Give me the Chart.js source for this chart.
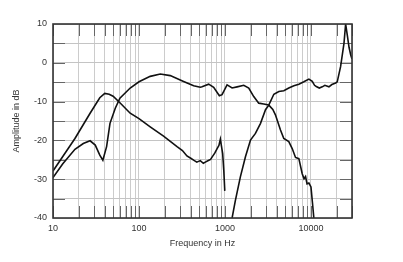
<!DOCTYPE html>
<html>
<head>
<meta charset="utf-8">
<script src="https://cdn.jsdelivr.net/npm/chart.js@4"></script>
<style>
  html, body { margin: 0; padding: 0; background: #fff; }
  #wrap { width: 403px; height: 262px; }
</style>
</head>
<body>
<div id="wrap"><canvas id="responseChart" width="403" height="262"></canvas></div>
<script>
// Woofer response (peaks near 40 Hz, cut off at 1 kHz)
const wooferHz = [10, 18, 27, 35, 40, 45, 50, 60, 79, 100, 135, 193, 277, 320, 361, 400, 432, 470, 516, 560, 591, 640, 680, 707, 760, 810, 850, 884, 910, 940, 970, 995];
const wooferDb = [-27.9, -19.5, -13, -9, -7.9, -8.1, -8.6, -10.3, -13, -14.4, -16.5, -18.9, -21.6, -22.6, -24, -24.6, -25.1, -25.6, -25.2, -25.9, -25.6, -25.2, -24.9, -24.3, -23.3, -22.1, -21.3, -19.7, -21.5, -23.4, -28, -33];

// Midrange response
const midHz = [10, 13, 18, 22.5, 27, 31, 35, 38, 42, 46, 53, 60, 79, 100, 135, 177, 231, 330, 432, 516, 541, 646, 739, 860, 925, 1057, 1210, 1383, 1653, 1890, 2160, 2470, 2825, 3230, 3600, 3860, 4420, 4830, 5520, 6050, 6610, 7230, 7910, 8300, 8650, 9000, 9460, 10000, 10400, 10800];
const midDb = [-29.6, -26, -22.3, -20.8, -20.1, -21.2, -23.8, -25.1, -21.6, -15.6, -11.7, -9.1, -6.5, -4.9, -3.5, -2.9, -3.3, -4.8, -5.9, -6.3, -6.2, -5.5, -6.3, -8.5, -8.2, -5.7, -6.5, -6.2, -5.8, -6.5, -8.7, -10.4, -10.6, -10.9, -12, -13.4, -17.3, -19.5, -20.3, -22.1, -24.4, -24.7, -28.6, -29.9, -29.3, -31.2, -31, -32, -36, -40];

// Tweeter response
const tweeterHz = [1210, 1320, 1510, 1730, 1980, 2260, 2590, 2960, 3230, 3700, 4230, 4830, 5520, 6330, 7230, 8260, 9460, 10350, 11000, 11530, 12500, 13530, 14500, 16180, 17500, 19360, 20200, 22100, 24200, 25300, 26500, 27700, 29000, 30000];
const tweeterDb = [-40, -35.5, -29.4, -24.2, -19.9, -18.2, -15.6, -12.1, -10.9, -8.1, -7.4, -7.2, -6.5, -5.9, -5.5, -4.9, -4.2, -4.8, -5.8, -6.1, -6.5, -6.2, -5.8, -6.2, -5.6, -5.2, -4.9, -1, 5, 10, 7, 4, 2, 1];

// Axis ticks
const freqGrid = [10, 20, 30, 40, 50, 60, 70, 80, 90, 100, 200, 300, 400, 500, 600, 700, 800, 900,
  1000, 2000, 3000, 4000, 5000, 6000, 7000, 8000, 9000, 10000, 20000, 30000];
const freqLabels = [10, 100, 1000, 10000];
const dbLabels = [10, 0, -10, -20, -30, -40];

function toPoints(xs, ys) {
  return xs.map((x, i) => ({ x: x, y: ys[i] }));
}

const fontFamily = '"Liberation Sans", Arial, Helvetica, sans-serif';
const textColor = '#333';

// frame + inward tick marks
const frameTicks = {
  id: 'frameTicks',
  beforeDatasetsDraw(chart) {
    const { ctx, chartArea: a, scales } = chart;
    const len = 12;
    ctx.save();
    ctx.strokeStyle = '#666';
    ctx.lineWidth = 1;
    ctx.beginPath();
    freqGrid.forEach(v => {
      const px = Math.round(scales.x.getPixelForValue(v)) + 0.5;
      ctx.moveTo(px, a.top); ctx.lineTo(px, a.top + len);
      ctx.moveTo(px, a.bottom); ctx.lineTo(px, a.bottom - len);
    });
    for (let v = -35; v <= 5; v += 5) {
      const py = Math.round(scales.y.getPixelForValue(v)) + 0.5;
      ctx.moveTo(a.left, py); ctx.lineTo(a.left + len, py);
      ctx.moveTo(a.right, py); ctx.lineTo(a.right - len, py);
    }
    ctx.stroke();
    ctx.restore();
  },
  afterDatasetsDraw(chart) {
    const { ctx, chartArea: a } = chart;
    ctx.save();
    ctx.strokeStyle = '#333';
    ctx.lineWidth = 1.6;
    ctx.strokeRect(a.left, a.top, a.right - a.left, a.bottom - a.top);
    ctx.restore();
  }
};

const lineStyle = {
  borderColor: '#111',
  borderWidth: 1.6,
  pointRadius: 0,
  tension: 0,
  fill: false
};

new Chart(document.getElementById('responseChart').getContext('2d'), {
  type: 'line',
  data: {
    datasets: [
      Object.assign({ label: 'Woofer', data: toPoints(wooferHz, wooferDb) }, lineStyle),
      Object.assign({ label: 'Midrange', data: toPoints(midHz, midDb) }, lineStyle),
      Object.assign({ label: 'Tweeter', data: toPoints(tweeterHz, tweeterDb) }, lineStyle)
    ]
  },
  options: {
    responsive: false,
    animation: false,
    layout: { padding: { top: 24, right: 51, left: 0, bottom: 0 } },
    plugins: { legend: { display: false }, tooltip: { enabled: false } },
    scales: {
      x: {
        type: 'logarithmic',
        min: 10,
        max: 30000,
        afterBuildTicks(scale) {
          scale.ticks = freqGrid.map(v => ({ value: v }));
        },
        afterFit(scale) { scale.height = 44; },
        grid: { color: '#cccccc', lineWidth: 1, drawTicks: false },
        border: { display: false },
        ticks: {
          autoSkip: false,
          maxRotation: 0,
          padding: 5,
          color: textColor,
          font: { family: fontFamily, size: 9 },
          callback: v => freqLabels.includes(v) ? String(v) : ''
        },
        title: {
          display: true,
          text: 'Frequency in Hz',
          color: textColor,
          font: { family: fontFamily, size: 9 },
          padding: { top: 0, bottom: 13 }
        }
      },
      y: {
        min: -40,
        max: 10,
        afterFit(scale) { scale.width = 53; },
        grid: { color: '#c4c4c4', lineWidth: 1, drawTicks: false },
        border: { display: false },
        ticks: {
          stepSize: 5,
          padding: 6,
          color: textColor,
          font: { family: fontFamily, size: 9 },
          callback: v => dbLabels.includes(v) ? String(v) : ''
        },
        title: {
          display: true,
          text: 'Amplitude in dB',
          color: textColor,
          font: { family: fontFamily, size: 9 },
          padding: { top: 11, bottom: 0 }
        }
      }
    }
  },
  plugins: [frameTicks]
});
</script>
</body>
</html>
